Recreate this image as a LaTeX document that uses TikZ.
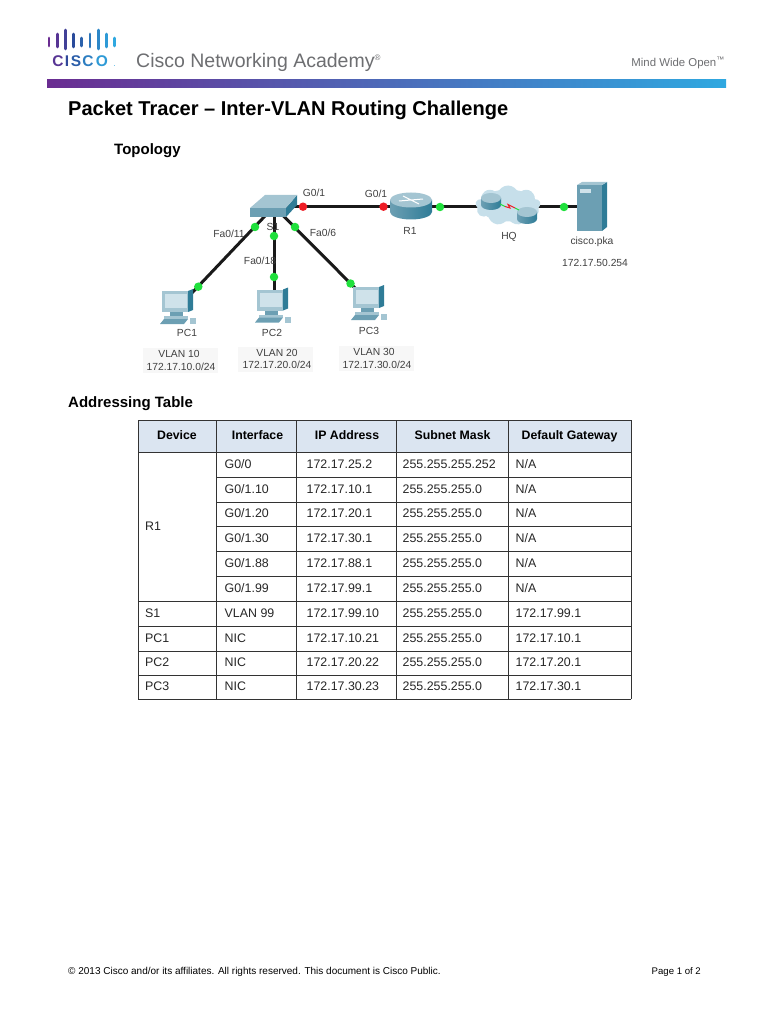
\documentclass[tikz,border=0pt]{standalone}
\usepackage{fontspec}
\setmainfont{Liberation Sans}
\usetikzlibrary{shapes.symbols}
\definecolor{barpurple}{HTML}{6A2C91}
\definecolor{barnavy}{HTML}{2A4B9B}
\definecolor{barsky}{HTML}{2FA8E0}
\definecolor{headblue}{HTML}{DBE5F1}
\definecolor{tealdark}{HTML}{2F7C97}
\definecolor{tealmid}{HTML}{6C9FB3}
\definecolor{teallight}{HTML}{CFE2EA}
\definecolor{tealpale}{HTML}{A4C5D2}
\definecolor{linkgreen}{HTML}{1FE03C}
\definecolor{linkred}{HTML}{EE1C25}
\definecolor{cloudblue}{HTML}{C6DFEA}
\definecolor{greytext}{HTML}{6D6E71}

\begin{document}
\begin{tikzpicture}[x=1pt,y=-1pt]
  \tikzstyle{txt}=[inner sep=0pt,text depth=0pt]
  \tikzstyle{cell}=[txt,anchor=west,text height=8.9pt,font=\fontsize{12.4}{14}\selectfont,text=black!85]
  \tikzstyle{headcell}=[txt,text height=8.9pt,font=\fontsize{12.3}{14}\bfseries\selectfont]
  \tikzstyle{heading}=[txt,anchor=west,text height=10.8pt,font=\fontsize{15}{17}\bfseries\selectfont]
  \tikzstyle{small}=[txt,text height=7.4pt,font=\fontsize{10.3}{12}\selectfont,text=black!75]
  \tikzstyle{vlanbox}=[fill=black!3,minimum width=75pt,minimum height=25pt,inner sep=0pt]
  \tikzstyle{dot}=[circle,inner sep=0pt,minimum size=8.5pt]
  \tikzstyle{up}=[dot,fill=linkgreen]
  \tikzstyle{down}=[dot,fill=linkred]
  \tikzstyle{link}=[line width=2.2pt,black!90]
  \tikzstyle{thick link}=[line width=3pt,black!90]
  \tikzstyle{grid}=[line width=.9pt,black!80]
  \useasboundingbox (0,0) rectangle (768,1024);

  % header
  \foreach \x/\top/\bot/\col in {49/38/46/barpurple,57.2/34/47/barpurple!70!barnavy,65.4/30/49/barpurple!35!barnavy,
      73.6/34/47/barnavy,81.8/38/46/barnavy!75!barsky,90/34/47/barnavy!55!barsky,98.2/30/49/barnavy!35!barsky,
      106.4/34/47/barnavy!15!barsky,114.6/38/46/barsky}
    \draw[line width=2.8pt,line cap=round,\col] (\x,\top) -- (\x,\bot);
  \foreach \x/\ltr/\col in {58/C/barpurple!70!barnavy,67/I/barnavy!90!barpurple,76/S/barnavy!80!barsky,
      88/C/barnavy!45!barsky,102/O/barsky!85!barnavy}
    \node[txt,text height=11pt,font=\fontsize{15.5}{16}\bfseries\selectfont,text=\col] (logo\ltr\x) at (\x,61) {\ltr};
  \node[txt,text height=1.5pt,font=\fontsize{8}{9}\selectfont,text=barsky] (logodot) at (114.5,65.5) {.};
  \node[txt,anchor=west,text height=14pt,font=\fontsize{19.5}{22}\selectfont,text=greytext] (academy) at (136,61) {Cisco Networking Academy\textsuperscript{\fontsize{8}{9}\selectfont ®}};
  \node[txt,anchor=east,text height=8.2pt,font=\fontsize{11.4}{13}\selectfont,text=greytext] (slogan) at (725,62.5) {Mind Wide Open\textsuperscript{™}};
  \shade[left color=barpurple,middle color=barnavy,right color=barsky] (47,80) rectangle (726,88);
  \node[heading,text height=14.4pt,font=\fontsize{20.05}{22}\bfseries\selectfont] (title) at (68,108.5) {Packet Tracer – Inter-VLAN Routing Challenge};
  \node[heading] (topology) at (114,149) {Topology};
  \node[heading] (addressing) at (68,402) {Addressing Table};

  % topology
  \coordinate (S1) at (274,206.5);
  \coordinate (R1) at (411,206.5);
  \coordinate (HQ) at (508,206.5);
  \coordinate (SRV) at (590,206.5);
  \coordinate (PC1) at (190,295);
  \coordinate (PC2) at (274,296);
  \coordinate (PC3) at (358,291);
  \node[vlanbox] (boxA) at (180.5,360.5) {};
  \node[vlanbox] (boxB) at (275.5,359.5) {};
  \node[vlanbox] (boxC) at (376,358.5) {};
  \draw[link] (S1) -- (R1);
  \draw[link] (R1) -- (HQ);
  \draw[link] (HQ) -- (SRV);
  \draw[thick link] (S1) -- (PC1);
  \draw[thick link] (S1) -- (PC2);
  \draw[thick link] (S1) -- (PC3);

  % switch
  \fill[tealmid] (250,208) -- (286,208) -- (286,217) -- (250,217) -- cycle;
  \fill[tealdark] (286,208) -- (297,195) -- (297,205) -- (286,217) -- cycle;
  \fill[tealpale] (250,208) -- (265,195) -- (297,195) -- (286,208) -- cycle;

  % router
  \shade[left color=tealmid,middle color=teallight,right color=tealdark]
    (390,200) -- (390,212) arc[start angle=180,end angle=0,x radius=21,y radius=7.5] -- (432,200) -- cycle;
  \fill[tealpale] (411,200) ellipse[x radius=21,y radius=7.5];
  \draw[white,line width=1pt] (399,201) -- (423,199) (403,196) -- (419,204);

  % cloud
  \fill[cloudblue] (508,205.5) ellipse[x radius=29,y radius=16];
  \node[cloud,cloud puffs=9,aspect=1.7,fill=cloudblue,inner sep=0pt,minimum width=65pt,minimum height=40pt] (cloudHQ) at (508,205.5) {};
  \foreach \x/\y in {491/198,527/212} {
    \shade[left color=tealmid,middle color=teallight,right color=tealdark]
      (\x-10,\y) -- (\x-10,\y+7) arc[start angle=180,end angle=0,x radius=10,y radius=5] -- (\x+10,\y) -- cycle;
    \fill[tealpale] (\x,\y) ellipse[x radius=10,y radius=5];
  }
  \draw[linkgreen,line width=1pt] (500,204) -- (505,206.5) (515,208) -- (519,210);
  \draw[linkred,line width=1pt] (505,206.5) -- (510,208) -- (508,204.5) -- (515,208);

  % server
  \fill[tealmid] (577,185) rectangle (602,231);
  \fill[tealdark] (602,185) -- (607,182) -- (607,227) -- (602,231) -- cycle;
  \fill[tealpale] (577,185) -- (582,182) -- (607,182) -- (602,185) -- cycle;
  \fill[teallight] (580,189) rectangle (591,193);

  % pcs
  \foreach \x/\y in {162/291,257/289.5,353/287} {
    \fill[tealpale] (\x,\y) rectangle (\x+26,\y+21);
    \fill[teallight] (\x+3,\y+3) rectangle (\x+25,\y+17);
    \fill[tealdark] (\x+26,\y) -- (\x+31,\y-2) -- (\x+31,\y+19) -- (\x+26,\y+21) -- cycle;
    \fill[tealmid] (\x+8,\y+21) rectangle (\x+21,\y+25);
    \fill[tealpale] (\x+2,\y+25) -- (\x+26,\y+25) -- (\x+26,\y+28) -- (\x+2,\y+28) -- cycle;
    \fill[tealmid] (\x+2,\y+28) -- (\x+26,\y+28) -- (\x+22,\y+33) -- (\x-2,\y+33) -- cycle;
    \fill[tealpale] (\x+28,\y+27) rectangle (\x+34,\y+33);
  }

  \node[up] (dotA) at (255,227) {};
  \node[up] (dotB) at (198.3,286.7) {};
  \node[up] (dotC) at (274,236) {};
  \node[up] (dotD) at (274,277) {};
  \node[up] (dotE) at (295,227) {};
  \node[up] (dotF) at (350.5,283.5) {};
  \node[down] (dotG) at (303,206.7) {};
  \node[down] (dotH) at (383.5,206.7) {};
  \node[up] (dotI) at (440,207) {};
  \node[up] (dotJ) at (564,207) {};

  \node[small] (lblS1) at (273,227) {S1};
  \node[small] (lblA) at (229,234) {Fa0/11};
  \node[small] (lblB) at (260,261) {Fa0/18};
  \node[small] (lblC) at (323,233) {Fa0/6};
  \node[small] (lblD) at (314,193) {G0/1};
  \node[small] (lblE) at (376,193.5) {G0/1};
  \node[small] (lblR1) at (410,231) {R1};
  \node[small] (lblHQ) at (509,236) {HQ};
  \node[small] (lblSRV) at (592,241) {cisco.pka};
  \node[small] (lblIP) at (595,263) {172.17.50.254};
  \node[small] (lblPC1) at (187,333) {PC1};
  \node[small] (lblPC2) at (272,333) {PC2};
  \node[small] (lblPC3) at (369,331) {PC3};
  \node[small] (vlanA) at (179,354) {VLAN 10};
  \node[small] (subA) at (181,366.5) {172.17.10.0/24};
  \node[small] (vlanB) at (277,353) {VLAN 20};
  \node[small] (subB) at (277,365) {172.17.20.0/24};
  \node[small] (vlanC) at (374,352) {VLAN 30};
  \node[small] (subC) at (377,365) {172.17.30.0/24};

  % table
  \fill[headblue] (138,420) rectangle (631,452);
  \foreach \y in {477,502,526.5,551.5,576}
    \draw[grid] (216.5,\y) -- (631,\y);
  \foreach \y in {420,452,601,626,651,675,699}
    \draw[grid] (138,\y) -- (631,\y);
  \foreach \x in {138,216.5,296,396,508,631}
    \draw[grid] (\x,420) -- (\x,699);
  \node[headcell] (hDev) at (177,435.5) {Device};
  \node[headcell] (hIf) at (257.5,435.5) {Interface};
  \node[headcell] (hIP) at (347,435.5) {IP Address};
  \node[headcell] (hMask) at (452.5,435.5) {Subnet Mask};
  \node[headcell] (hGw) at (569.5,435.5) {Default Gateway};
  \node[cell] (devR1) at (145,526.5) {R1};
  \node[cell] (devS1) at (145,613) {S1};
  \node[cell] (devPC1) at (145,638) {PC1};
  \node[cell] (devPC2) at (145,662.5) {PC2};
  \node[cell] (devPC3) at (145,686.5) {PC3};
  \foreach \y/\ifc/\ip/\mask/\gw [count=\n] in {
      464/{G0/0}/172.17.25.2/255.255.255.252/{N/A},
      489/{G0/1.10}/172.17.10.1/255.255.255.0/{N/A},
      513.5/{G0/1.20}/172.17.20.1/255.255.255.0/{N/A},
      538.5/{G0/1.30}/172.17.30.1/255.255.255.0/{N/A},
      563.5/{G0/1.88}/172.17.88.1/255.255.255.0/{N/A},
      588/{G0/1.99}/172.17.99.1/255.255.255.0/{N/A},
      613/VLAN 99/172.17.99.10/255.255.255.0/172.17.99.1,
      638/NIC/172.17.10.21/255.255.255.0/172.17.10.1,
      662.5/NIC/172.17.20.22/255.255.255.0/172.17.20.1,
      686.5/NIC/172.17.30.23/255.255.255.0/172.17.30.1} {
    \node[cell] (ifc\n) at (224.5,\y) {\ifc};
    \node[cell] (ip\n) at (306.5,\y) {\ip};
    \node[cell] (mask\n) at (402.5,\y) {\mask};
    \node[cell] (gw\n) at (515.5,\y) {\gw};
  }

  % footer
  \node[txt,anchor=west,text height=7.2pt,font=\fontsize{10}{11}\selectfont] (copy) at (68,971) {© 2013 Cisco and/or its affiliates. All rights reserved. This document is Cisco Public.};
  \node[txt,anchor=east,text height=7.2pt,font=\fontsize{9.6}{11}\selectfont] (page) at (701,971) {Page 1 of 2};
\end{tikzpicture}
\end{document}
